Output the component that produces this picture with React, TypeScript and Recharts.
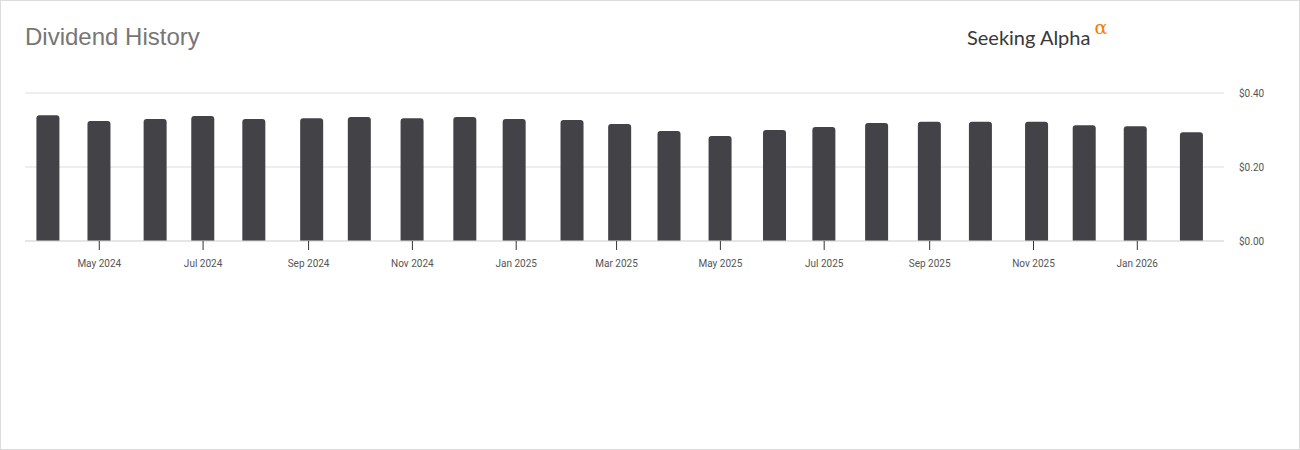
import React from 'react';
import { BarChart, Bar, XAxis, YAxis, CartesianGrid } from 'recharts';

const payDates = [
  '2024-04-01', '2024-05-01', '2024-06-03', '2024-07-01', '2024-07-31', '2024-09-03',
  '2024-10-01', '2024-11-01', '2024-12-02', '2024-12-31', '2025-02-03', '2025-03-03',
  '2025-04-01', '2025-05-01', '2025-06-02', '2025-07-01', '2025-08-01', '2025-09-01',
  '2025-10-01', '2025-11-03', '2025-12-01', '2025-12-31', '2026-02-02',
];
const dividends = [
  0.340, 0.324, 0.330, 0.338, 0.330, 0.332,
  0.335, 0.332, 0.335, 0.330, 0.327, 0.316,
  0.297, 0.284, 0.300, 0.308, 0.319, 0.322,
  0.322, 0.322, 0.313, 0.310, 0.294,
];
const xTickDates = [
  '2024-05-01', '2024-07-01', '2024-09-01', '2024-11-01', '2025-01-01', '2025-03-01',
  '2025-05-01', '2025-07-01', '2025-09-01', '2025-11-01', '2026-01-01',
];
const yTicks = [0, 0.2, 0.4];
const monthNames = ['Jan', 'Feb', 'Mar', 'Apr', 'May', 'Jun', 'Jul', 'Aug', 'Sep', 'Oct', 'Nov', 'Dec'];

const DAY = 86400000;
const toTs = (s: string) => {
  const [y, m, d] = s.split('-').map(Number);
  return Date.UTC(y, m - 1, d);
};
const data = payDates.map((d, i) => ({ t: toTs(d), value: dividends[i] }));
const xTicks = xTickDates.map(toTs);
const anchor = toTs('2024-05-01');
const xDomain = [anchor - 43.66 * DAY, anchor + 660.96 * DAY];

const fmtMonth = (v: number) => {
  const d = new Date(v);
  return `${monthNames[d.getUTCMonth()]} ${d.getUTCFullYear()}`;
};
const fmtDollar = (v: number) => `$${v.toFixed(2)}`;

export default function App() {
  return (
    <div style={{ position: 'absolute', left: 0, top: 0, width: 1300, height: 450, background: '#fff' }}>
      <div
        style={{
          position: 'absolute', left: 0, top: 0, width: 1300, height: 450,
          boxSizing: 'border-box', border: '1px solid #dcdcdc', pointerEvents: 'none',
        }}
      />
      <svg width={400} height={60} style={{ position: 'absolute', left: 0, top: 0 }}>
        <text x={25} y={45} fontFamily="'Liberation Sans', Arial, sans-serif" fontSize={24} fill="#767676">
          Dividend History
        </text>
      </svg>
      <div
        style={{
          position: 'absolute', left: 967, top: 26.6, height: 20, lineHeight: '20px',
          whiteSpace: 'nowrap', fontFamily: 'Lato, sans-serif', fontSize: 20, color: '#383838',
        }}
      >
        <span>Seeking Alpha</span>
        <span
          style={{
            position: 'relative', top: -11, marginLeft: 4, fontFamily: "'DejaVu Serif', serif",
            fontSize: 19, color: '#f57c00',
          }}
        >
          α
        </span>
      </div>
      <div style={{ position: 'absolute', left: 0, top: 0 }}>
        <BarChart
          width={1300}
          height={300}
          data={data}
          margin={{ top: 93, left: 25, right: 16, bottom: 29 }}
        >
          <CartesianGrid vertical={false} stroke="#dddddd" />
          <XAxis
            dataKey="t"
            type="number"
            domain={xDomain}
            allowDataOverflow
            ticks={xTicks}
            interval={0}
            tickFormatter={fmtMonth}
            height={30}
            axisLine={{ stroke: '#dddddd' }}
            tickLine={{ stroke: '#333333' }}
            tickSize={9}
            tickMargin={10}
            tick={{ fontFamily: 'Roboto, sans-serif', fontSize: 10, fill: '#555555' }}
          />
          <YAxis
            orientation="right"
            domain={[0, 0.4]}
            ticks={yTicks}
            tickFormatter={fmtDollar}
            width={60}
            axisLine={false}
            tickLine={false}
            tickSize={6}
            tickMargin={9}
            tick={{ fontFamily: 'Roboto, sans-serif', fontSize: 10, fill: '#555555', textAnchor: 'start' }}
          />
          <Bar dataKey="value" fill="#434247" barSize={23} radius={[3, 3, 0, 0]} isAnimationActive={false} />
        </BarChart>
      </div>
    </div>
  );
}
